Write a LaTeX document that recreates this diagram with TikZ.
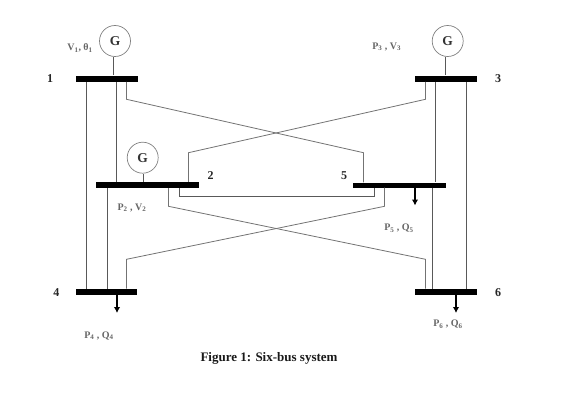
\documentclass[tikz,border=0pt]{standalone}
\usepackage{fontspec}
\setmainfont{Liberation Serif}
\usetikzlibrary{
    arrows.meta
}
\tikzset{
    busbar/.style={fill=black, inner sep=0pt, minimum height=6pt},
    line/.style={draw=black!65, line width=1pt},
    crossline/.style={draw=black!55, line width=0.8pt},
    gen/.style={circle, draw=black!50, line width=0.7pt, inner sep=0pt, minimum size=31pt, font=\bfseries\fontsize{13.5}{14}\selectfont, text=black!80},
    loadarrow/.style={-{Latex[length=6pt, width=6.5pt]}, draw=black, line width=1.1pt},
    busno/.style={font=\bfseries\fontsize{12}{12}\selectfont, text=black!85},
    note/.style={font=\bfseries\fontsize{10}{10}\selectfont, text=black!60}
}
\begin{document}
\begin{tikzpicture}[x=1pt, y=-1pt]
    \useasboundingbox (0,0) rectangle (562,401);
    % busbars
    \node[busbar, minimum width=62.6pt] (bus1) at (107,78.7) {};
    \node[busbar, minimum width=103.3pt] (bus2) at (147.3,185) {};
    \node[busbar, minimum width=62pt] (bus3) at (446,78.7) {};
    \node[busbar, minimum width=61.6pt] (bus4) at (106.5,291.7) {};
    \node[busbar, minimum width=92.4pt, minimum height=5pt] (bus5) at (399.5,185) {};
    \node[busbar, minimum width=61.4pt] (bus6) at (446,291.7) {};
    % generators
    \node[gen] (gen1) at (115,41) {G};
    \node[gen] (gen2) at (142.7,157.7) {G};
    \node[gen] (gen3) at (447.7,41) {G};
    \draw[line] (gen1.south -| 113.5,0) -- (bus1.north -| 113.5,0);
    \draw[line] (gen2.south -| 143.5,0) -- (bus2.north -| 143.5,0);
    \draw[line] (gen3.south -| 445.5,0) -- (bus3.north -| 445.5,0);
    % bends of the crossing lines
    \coordinate (a15) at (126.5,99.3);
    \coordinate (b15) at (363.5,152.7);
    \coordinate (a32) at (425.5,99.3);
    \coordinate (b32) at (188.5,152.7);
    \coordinate (a26) at (168.5,206.3);
    \coordinate (b26) at (425.5,259.3);
    \coordinate (a54) at (384.5,206.3);
    \coordinate (b54) at (126.5,259.3);
    \coordinate (a25) at (179.5,196.5);
    \coordinate (b25) at (374.5,196.5);
    % straight lines
    \draw[line] (bus1.south -| 86.5,0) -- (bus4.north -| 86.5,0);
    \draw[line] (bus1.south -| 116.5,0) -- (bus2.north -| 116.5,0);
    \draw[line] (bus2.south -| 107.5,0) -- (bus4.north -| 107.5,0);
    \draw[line] (bus3.south -| 435.5,0) -- (bus5.north -| 435.5,0);
    \draw[line] (bus3.south -| 466.5,0) -- (bus6.north -| 466.5,0);
    \draw[line] (bus5.south -| 432.5,0) -- (bus6.north -| 432.5,0);
    % lines with bends
    \draw[crossline] (bus1.south -| a15) -- (a15) -- (b15) -- (bus5.north -| b15);
    \draw[crossline] (bus3.south -| a32) -- (a32) -- (b32) -- (bus2.north -| b32);
    \draw[crossline] (bus2.south -| a26) -- (a26) -- (b26) -- (bus6.north -| b26);
    \draw[crossline] (bus5.south -| a54) -- (a54) -- (b54) -- (bus4.north -| b54);
    \draw[line] (bus2.south -| a25) -- (a25) -- (b25) -- (bus5.south -| b25);
    % loads
    \coordinate (load4) at (117,313);
    \coordinate (load5) at (415,205.5);
    \coordinate (load6) at (456,313);
    \draw[loadarrow] (bus4.south -| load4) -- (load4);
    \draw[loadarrow] (bus5.south -| load5) -- (load5);
    \draw[loadarrow] (bus6.south -| load6) -- (load6);
    % labels
    \node[busno] (no1) at (50,79) {1};
    \node[busno] (no2) at (210.7,176) {2};
    \node[busno] (no3) at (498,79) {3};
    \node[busno] (no4) at (56.3,292.7) {4};
    \node[busno] (no5) at (344,176) {5};
    \node[busno] (no6) at (498,293) {6};
    \node[note] (note1) at (80,48) {V\textsubscript{1}, θ\textsubscript{1}};
    \node[note] (note2) at (132,207.7) {P\textsubscript{2} , V\textsubscript{2}};
    \node[note] (note3) at (386.7,47) {P\textsubscript{3} , V\textsubscript{3}};
    \node[note] (note4) at (99,335.7) {P\textsubscript{4} , Q\textsubscript{4}};
    \node[note] (note5) at (399,228) {P\textsubscript{5} , Q\textsubscript{5}};
    \node[note] (note6) at (448,324) {P\textsubscript{6} , Q\textsubscript{6}};
    \node[font=\bfseries\fontsize{13}{13}\selectfont, text=black!90] (caption) at (269,358) {Figure 1: Six-bus system};
\end{tikzpicture}
\end{document}
